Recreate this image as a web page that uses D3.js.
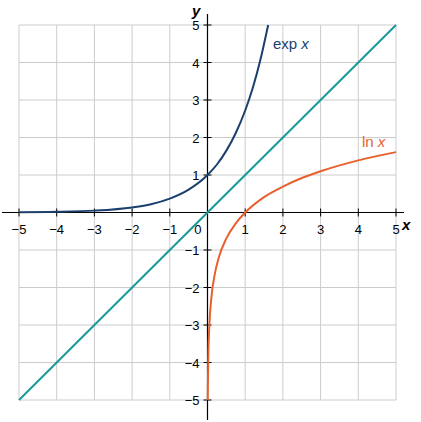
<!DOCTYPE html><html><head><script src="https://d3js.org/d3.v7.min.js"></script>
<style>body{margin:0;background:#fff}text{font-family:"Liberation Sans",Arial,sans-serif}</style></head><body><svg id="c" width="421" height="422"></svg>
<script>
const xTicks=[-5,-4,-3,-2,-1,1,2,3,4,5];
const yTicks=[-5,-4,-3,-2,-1,1,2,3,4,5];
const expX=[-5,-4,-3,-2,-1.5,-1,-0.5,0,0.25,0.5,0.75,1,1.2,1.4,1.609];
const expY=[0.007,0.018,0.05,0.135,0.22,0.37,0.61,1,1.28,1.65,2.12,2.72,3.32,4.06,5];
const lnX=[0.0067,0.01,0.02,0.05,0.1,0.2,0.3,0.5,0.75,1,1.5,2,2.5,3,4,5];
const lnY=[-5,-4.6,-3.9,-3,-2.3,-1.61,-1.2,-0.69,-0.29,0,0.41,0.69,0.92,1.1,1.39,1.61];
const idX=[-5,5], idY=[-5,5];
const svg=d3.select("#c");
const x=d3.scaleLinear().domain([-5,5]).range([19,396]);
const y=d3.scaleLinear().domain([-5,5]).range([400,25]);
const g=svg.append("g");
d3.range(-5,6).forEach(v=>{
 g.append("line").attr("x1",x(v)).attr("x2",x(v)).attr("y1",y(-5)).attr("y2",y(5)).attr("stroke","#ccc").attr("stroke-width",1);
 g.append("line").attr("y1",y(v)).attr("y2",y(v)).attr("x1",x(-5)).attr("x2",x(5)).attr("stroke","#ccc").attr("stroke-width",1);
});
svg.append("line").attr("x1",2).attr("x2",404).attr("y1",y(0)).attr("y2",y(0)).attr("stroke","#000").attr("stroke-width",1.2);
svg.append("line").attr("x1",x(0)).attr("x2",x(0)).attr("y1",14).attr("y2",420).attr("stroke","#000").attr("stroke-width",1.2);
xTicks.forEach(v=>{
 svg.append("line").attr("x1",x(v)).attr("x2",x(v)).attr("y1",y(0)-4).attr("y2",y(0)+4).attr("stroke","#000");
 svg.append("text").attr("x",x(v)).attr("y",y(0)+21).attr("text-anchor","middle").attr("font-size",13).text(v<0?"\u2212"+(-v):v);
});
yTicks.forEach(v=>{
 svg.append("line").attr("y1",y(v)).attr("y2",y(v)).attr("x1",x(0)-4).attr("x2",x(0)+4).attr("stroke","#000");
 svg.append("text").attr("x",x(0)-8).attr("y",y(v)+5).attr("text-anchor","end").attr("font-size",13).text(v<0?"\u2212"+(-v):v);
});
svg.append("text").attr("x",x(0)-6).attr("y",y(0)+21).attr("text-anchor","end").attr("font-size",13).text("0");
svg.append("text").attr("x",402).attr("y",230).attr("font-size",15).attr("font-weight","bold").attr("font-style","italic").text("x");
svg.append("text").attr("x",192).attr("y",16).attr("font-size",15).attr("font-weight","bold").attr("font-style","italic").text("y");
const line=d3.line().x(d=>x(d[0])).y(d=>y(d[1])).curve(d3.curveMonotoneX);
const path=(xs,ys,c)=>svg.append("path").attr("d",line(xs.map((v,i)=>[v,ys[i]]))).attr("fill","none").attr("stroke",c).attr("stroke-width",2);
path(idX,idY,"#18999a");
path(expX,expY,"#1b3f6e");
path(lnX,lnY,"#e8602c");
const lab=(px,py,a,b,c)=>{const t=svg.append("text").attr("x",px).attr("y",py).attr("font-size",15).attr("fill",c);t.append("tspan").text(a);t.append("tspan").attr("font-style","italic").text(b);};
lab(273,49,"exp ","x","#1b3f6e");
lab(362,147,"ln ","x","#e8602c");
</script></body></html>
